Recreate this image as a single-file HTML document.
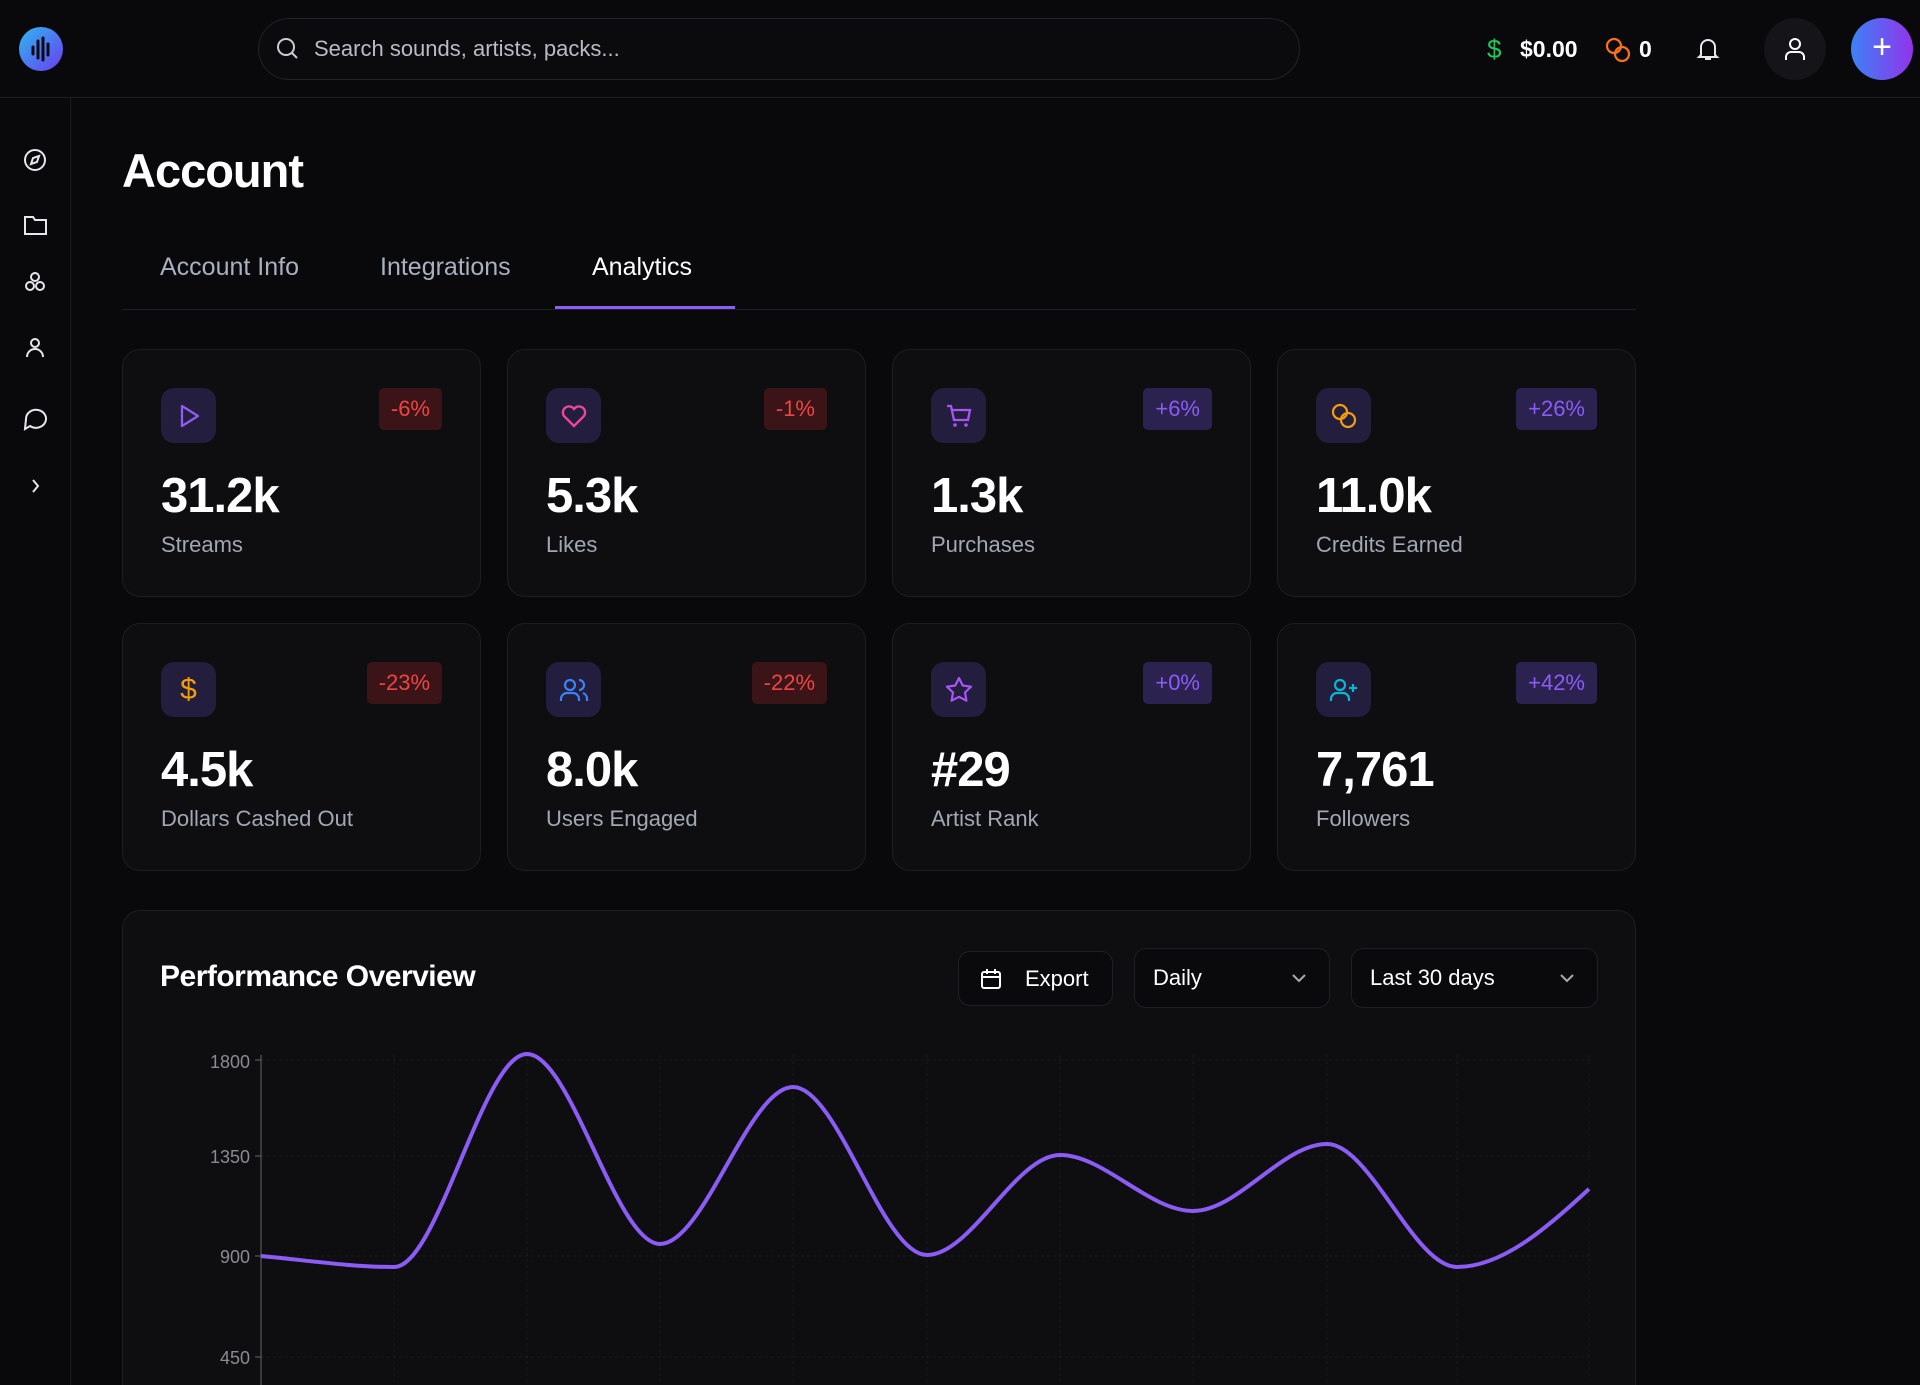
<!DOCTYPE html>
<html style="width:1920px;height:1385px;overflow:hidden"><head><meta charset="utf-8"><style>
*{box-sizing:border-box;margin:0;padding:0}
body{width:1920px;height:1385px;overflow:hidden;background:#09090b;font-family:"Liberation Sans",sans-serif;color:#fff}
#w{position:relative;width:1920px;height:1385px;overflow:hidden}
.a{position:absolute}
.card{position:absolute;width:359px;height:248px;background:#0e0e11;border:1px solid #1d1d22;border-radius:18px}
.ic{position:absolute;left:38px;top:38px;width:55px;height:55px;border-radius:13px;background:#231e3e;display:flex;align-items:center;justify-content:center}
.bd{position:absolute;right:38px;top:38px;height:42px;padding:0 12px;border-radius:5px;font-size:22px;line-height:42px}
.neg{background:#3b1417;color:#ef4444}.pos{background:#2b2250;color:#8b5cf6}
.val{position:absolute;left:38px;top:118px;font-size:49px;font-weight:bold;letter-spacing:-1px}
.lbl{position:absolute;left:38px;top:182px;font-size:22px;color:#a1a7b3}
.tab{position:absolute;top:253px;font-size:25px;color:#a9b0be}
.btn{position:absolute;background:#0a0a0c;border:1px solid #1f1f25;border-radius:12px;font-size:22px;display:flex;align-items:center}
</style></head><body><div id="w">
<div class="a" style="left:0;top:97px;width:1920px;height:1px;background:#1c1c21"></div>
<div class="a" style="left:70px;top:98px;width:1px;height:1287px;background:#1c1c21"></div>
<div class="a" style="left:19px;top:27px;width:44px;height:44px;border-radius:50%;background:linear-gradient(135deg,#2fb8f0,#6a3cf0)"></div>
<svg class="a" style="left:19px;top:27px" width="44" height="44"><g stroke="#0a0a14" stroke-width="3" stroke-linecap="round"><line x1="14" y1="20" x2="14" y2="27"/><line x1="19" y1="14" x2="19" y2="31"/><line x1="24" y1="11" x2="24" y2="33"/><line x1="29" y1="17" x2="29" y2="28"/></g></svg>
<div class="a" style="left:258px;top:18px;width:1042px;height:62px;border:1px solid #222228;border-radius:31px;background:#0b0b0e"></div>
<svg class="a" style="left:276px;top:37px" width="24" height="24"><circle cx="10" cy="10" r="8" fill="none" stroke="#c9ccd4" stroke-width="2"/><line x1="16" y1="16" x2="21" y2="21" stroke="#c9ccd4" stroke-width="2"/></svg>
<div class="a" style="left:314px;top:36px;font-size:22px;color:#b9bcc6">Search sounds, artists, packs...</div>
<div class="a" style="left:1487px;top:34px;font-size:26px;color:#22c55e">$</div>
<div class="a" style="left:1520px;top:36px;font-size:23px;font-weight:bold">$0.00</div>
<svg class="a" style="left:1604px;top:36px" width="28" height="28"><g fill="none" stroke="#f97316" stroke-width="2.2"><circle cx="10" cy="10" r="7"/><circle cx="18" cy="18" r="7"/></g></svg>
<div class="a" style="left:1639px;top:36px;font-size:23px;font-weight:bold">0</div>
<svg class="a" style="left:1695px;top:36px" width="26" height="26"><path d="M6 19V11a7 7 0 0 1 14 0v8l2 2H4z M10 23h6" fill="none" stroke="#e5e7eb" stroke-width="2"/></svg>
<div class="a" style="left:1764px;top:18px;width:62px;height:62px;border-radius:50%;background:#151519"></div>
<svg class="a" style="left:1782px;top:36px" width="26" height="26"><circle cx="13" cy="8" r="5" fill="none" stroke="#fff" stroke-width="2"/><path d="M4 24v-3a5 5 0 0 1 5-5h8a5 5 0 0 1 5 5v3" fill="none" stroke="#fff" stroke-width="2"/></svg>
<div class="a" style="left:1851px;top:18px;width:62px;height:62px;border-radius:50%;background:linear-gradient(90deg,#3b82f6,#9333ea);text-align:center;line-height:58px;font-size:34px">+</div>
<svg class="a" style="left:22px;top:147px" width="28" height="360" fill="none" stroke="#e5e7eb" stroke-width="2">
<circle cx="13" cy="13" r="10"/><path d="M17 9l-2 6-6 2 2-6z"/>
<path d="M3 70h8l2 3h11v14H3z"/>
<circle cx="13" cy="130" r="4"/><circle cx="8" cy="139" r="4"/><circle cx="18" cy="139" r="4"/>
<circle cx="13" cy="196" r="4"/><path d="M5 210a8 8 0 0 1 16 0"/>
<path d="M4 272a10 9 0 1 1 4 7l-5 3z"/>
<path d="M11 333l5 6-5 6"/>
</svg>
<div class="a" style="left:122px;top:143px;font-size:47px;font-weight:bold;letter-spacing:-1px">Account</div>
<div class="tab" style="left:160px">Account Info</div>
<div class="tab" style="left:380px">Integrations</div>
<div class="tab" style="left:592px;color:#fff">Analytics</div>
<div class="a" style="left:122px;top:309px;width:1514px;height:1px;background:#1f1f25"></div>
<div class="a" style="left:555px;top:306px;width:180px;height:3px;background:#8b5cf6"></div>
<div class="card" style="left:122px;top:349px"><div class="ic"><svg width="28" height="28"><path d="M7 4l16 10-16 10z" fill="none" stroke="#8b5cf6" stroke-width="2.3" stroke-linejoin="round"/></svg></div><div class="bd neg">-6%</div><div class="val">31.2k</div><div class="lbl">Streams</div></div>
<div class="card" style="left:507px;top:349px"><div class="ic"><svg width="30" height="30"><path d="M15 25L5 15a5.5 5.5 0 0 1 10-7a5.5 5.5 0 0 1 10 7z" fill="none" stroke="#ec4899" stroke-width="2.3"/></svg></div><div class="bd neg">-1%</div><div class="val">5.3k</div><div class="lbl">Likes</div></div>
<div class="card" style="left:892px;top:349px"><div class="ic"><svg width="30" height="30"><path d="M3 5h4l3 14h14l2-10H8" fill="none" stroke="#a855f7" stroke-width="2.3"/><circle cx="11" cy="24" r="1.8" fill="#a855f7"/><circle cx="22" cy="24" r="1.8" fill="#a855f7"/></svg></div><div class="bd pos">+6%</div><div class="val">1.3k</div><div class="lbl">Purchases</div></div>
<div class="card" style="left:1277px;top:349px"><div class="ic"><svg width="30" height="30"><g fill="none" stroke="#f59e0b" stroke-width="2.2"><circle cx="11" cy="11" r="7"/><circle cx="19" cy="19" r="7"/></g></svg></div><div class="bd pos">+26%</div><div class="val">11.0k</div><div class="lbl">Credits Earned</div></div>
<div class="card" style="left:122px;top:623px"><div class="ic" style="color:#f59e0b;font-size:30px">$</div><div class="bd neg">-23%</div><div class="val">4.5k</div><div class="lbl">Dollars Cashed Out</div></div>
<div class="card" style="left:507px;top:623px"><div class="ic"><svg width="30" height="30"><g fill="none" stroke="#3b82f6" stroke-width="2.2"><circle cx="11" cy="10" r="5"/><path d="M2 26v-2a6 6 0 0 1 6-6h6a6 6 0 0 1 6 6v2M20 5a5 5 0 0 1 0 10M24 18a6 6 0 0 1 4 6v2"/></g></svg></div><div class="bd neg">-22%</div><div class="val">8.0k</div><div class="lbl">Users Engaged</div></div>
<div class="card" style="left:892px;top:623px"><div class="ic"><svg width="30" height="30"><path d="M15 3l3.7 7.5 8.3 1.2-6 5.8 1.4 8.2L15 21.8l-7.4 3.9L9 17.5l-6-5.8 8.3-1.2z" fill="none" stroke="#a855f7" stroke-width="2.2" stroke-linejoin="round"/></svg></div><div class="bd pos">+0%</div><div class="val">#29</div><div class="lbl">Artist Rank</div></div>
<div class="card" style="left:1277px;top:623px"><div class="ic"><svg width="30" height="30"><g fill="none" stroke="#06b6d4" stroke-width="2.2"><circle cx="11" cy="10" r="5"/><path d="M2 26v-2a6 6 0 0 1 6-6h6a6 6 0 0 1 6 6v2M24 9v8M20 13h8"/></g></svg></div><div class="bd pos">+42%</div><div class="val">7,761</div><div class="lbl">Followers</div></div>
<div class="a" style="left:122px;top:910px;width:1514px;height:520px;background:#0e0e11;border:1px solid #1d1d22;border-radius:18px"></div>
<div class="a" style="left:160px;top:960px;font-size:30px;font-weight:bold;letter-spacing:-0.5px">Performance Overview</div>
<div class="btn" style="left:958px;top:951px;width:155px;height:55px;padding-left:20px"><svg width="24" height="24"><g fill="none" stroke="#fff" stroke-width="2"><rect x="3" y="5" width="18" height="16" rx="2"/><path d="M3 10h18M8 2v5M16 2v5"/></g></svg><span style="margin-left:22px">Export</span></div>
<div class="btn" style="left:1134px;top:948px;width:196px;height:60px;padding-left:18px;justify-content:space-between;padding-right:22px"><span>Daily</span><svg width="16" height="10"><path d="M2 2l6 6 6-6" fill="none" stroke="#aaa" stroke-width="2"/></svg></div>
<div class="btn" style="left:1351px;top:948px;width:247px;height:60px;padding-left:18px;justify-content:space-between;padding-right:22px"><span>Last 30 days</span><svg width="16" height="10"><path d="M2 2l6 6 6-6" fill="none" stroke="#aaa" stroke-width="2"/></svg></div>
<svg class="a" style="left:0;top:0" width="1920" height="1385">
<g stroke="#1a1a1f" stroke-width="1" stroke-dasharray="3 3">
<line x1="261" y1="1060" x2="1590" y2="1060"/><line x1="261" y1="1156" x2="1590" y2="1156"/><line x1="261" y1="1256" x2="1590" y2="1256"/><line x1="261" y1="1357" x2="1590" y2="1357"/>
<line x1="394" y1="1055" x2="394" y2="1385"/><line x1="527" y1="1055" x2="527" y2="1385"/><line x1="660" y1="1055" x2="660" y2="1385"/><line x1="793" y1="1055" x2="793" y2="1385"/><line x1="927" y1="1055" x2="927" y2="1385"/><line x1="1060" y1="1055" x2="1060" y2="1385"/><line x1="1193" y1="1055" x2="1193" y2="1385"/><line x1="1327" y1="1055" x2="1327" y2="1385"/><line x1="1457" y1="1055" x2="1457" y2="1385"/><line x1="1589" y1="1055" x2="1589" y2="1385"/>
</g>
<line x1="261" y1="1055" x2="261" y2="1385" stroke="#666" stroke-width="1"/>
<g stroke="#666"><line x1="255" y1="1060" x2="261" y2="1060"/><line x1="255" y1="1156" x2="261" y2="1156"/><line x1="255" y1="1256" x2="261" y2="1256"/><line x1="255" y1="1357" x2="261" y2="1357"/></g>
<g fill="#8a8a92" font-size="18" font-family="Liberation Sans" text-anchor="end"><text x="250" y="1068">1800</text><text x="250" y="1163">1350</text><text x="250" y="1263">900</text><text x="250" y="1364">450</text></g>
<path fill="none" stroke="#8b5cf6" stroke-width="4" d="M261 1256 C305 1260 350 1267 394 1267 C438 1267 483 1054 527 1054 C571 1054 616 1244 660 1244 C704 1244 749 1087 793 1087 C838 1087 882 1255 927 1255 C971 1255 1016 1155 1060 1155 C1104 1155 1149 1211 1193 1211 C1238 1211 1282 1144 1327 1144 C1370 1144 1414 1267 1457 1267 C1501 1267 1545 1230 1589 1189"/>
</svg>
</div></body></html>
